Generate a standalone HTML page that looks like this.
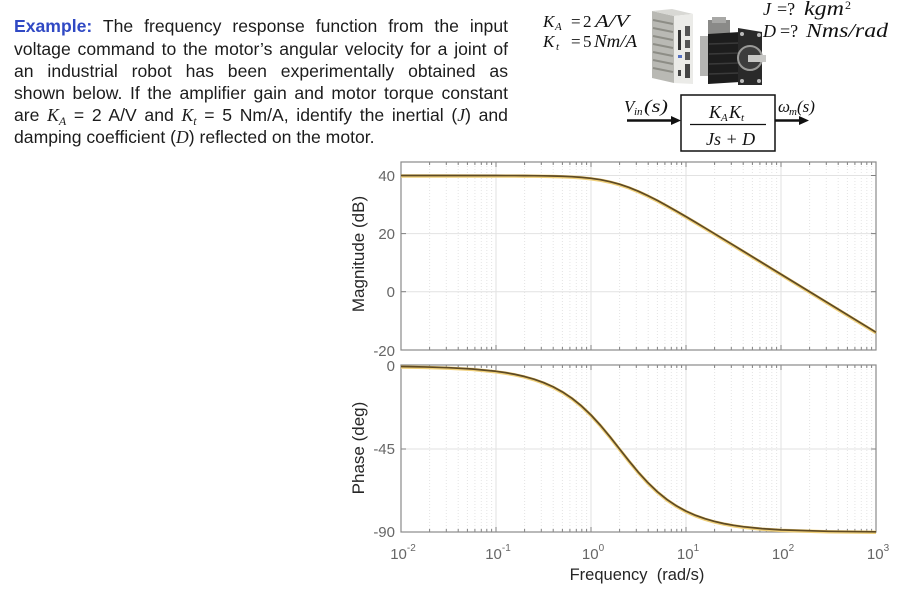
<!DOCTYPE html>
<html>
<head>
<meta charset="utf-8">
<style>
html,body{margin:0;padding:0;background:#fff;}
body{width:897px;height:602px;position:relative;overflow:hidden;font-family:"Liberation Sans",Arial,sans-serif;color:#1c1c1c;}
.ln{position:absolute;left:14px;width:494px;font-size:17.6px;line-height:22px;height:22px;text-align:justify;text-align-last:justify;white-space:normal;}
.last{text-align-last:left;}
.m{font-family:"Liberation Serif",serif;font-style:italic;}
.sb{font-family:"Liberation Serif",serif;font-style:italic;font-size:12px;vertical-align:-4px;}
svg{position:absolute;left:0;top:0;}
</style>
</head>
<body>
<div class="ln" style="top:15px"><b style="color:#3049c4">Example:</b> The frequency response function from the input</div>
<div class="ln" style="top:38px">voltage command to the motor’s angular velocity for a joint of</div>
<div class="ln" style="top:60px">an industrial robot has been experimentally obtained as</div>
<div class="ln" style="top:82px">shown below. If the amplifier gain and motor torque constant</div>
<div class="ln" style="top:104px">are <span class="m">K</span><span class="sb">A</span> = 2 A/V and <span class="m">K</span><span class="sb">t</span> = 5 Nm/A, identify the inertial (<span class="m">J</span>) and</div>
<div class="ln last" style="top:126px">damping coefficient (<span class="m">D</span>) reflected on the motor.</div>

<svg width="897" height="602" viewBox="0 0 897 602" xmlns="http://www.w3.org/2000/svg">
<defs>
  <g id="mgm" stroke="#e4e4e4" stroke-width="1" stroke-dasharray="1,2">
    <line x1="28.6" y1="163" x2="28.6" y2="349"/><line x1="45.3" y1="163" x2="45.3" y2="349"/>
    <line x1="57.2" y1="163" x2="57.2" y2="349"/><line x1="66.4" y1="163" x2="66.4" y2="349"/>
    <line x1="73.9" y1="163" x2="73.9" y2="349"/><line x1="80.3" y1="163" x2="80.3" y2="349"/>
    <line x1="85.8" y1="163" x2="85.8" y2="349"/><line x1="90.6" y1="163" x2="90.6" y2="349"/>
  </g>
  <g id="mgp" stroke="#e4e4e4" stroke-width="1" stroke-dasharray="1,2">
    <line x1="28.6" y1="366" x2="28.6" y2="531"/><line x1="45.3" y1="366" x2="45.3" y2="531"/>
    <line x1="57.2" y1="366" x2="57.2" y2="531"/><line x1="66.4" y1="366" x2="66.4" y2="531"/>
    <line x1="73.9" y1="366" x2="73.9" y2="531"/><line x1="80.3" y1="366" x2="80.3" y2="531"/>
    <line x1="85.8" y1="366" x2="85.8" y2="531"/><line x1="90.6" y1="366" x2="90.6" y2="531"/>
  </g>
  <g id="mtk" stroke="#808080" stroke-width="1">
    <line x1="28.6" y1="0" x2="28.6" y2="3"/><line x1="45.3" y1="0" x2="45.3" y2="3"/>
    <line x1="57.2" y1="0" x2="57.2" y2="3"/><line x1="66.4" y1="0" x2="66.4" y2="3"/>
    <line x1="73.9" y1="0" x2="73.9" y2="3"/><line x1="80.3" y1="0" x2="80.3" y2="3"/>
    <line x1="85.8" y1="0" x2="85.8" y2="3"/><line x1="90.6" y1="0" x2="90.6" y2="3"/>
  </g>
</defs>

<!-- Equations top right -->
<g font-family="Liberation Serif, serif" font-style="italic" fill="#111">
  <text x="543" y="27" font-size="17">K</text>
  <text x="555" y="30" font-size="11">A</text>
  <text x="571" y="27" font-size="17" font-style="normal">=</text>
  <text x="583" y="27" font-size="17" font-style="normal">2</text>
  <text x="595" y="27" font-size="18" textLength="34" lengthAdjust="spacingAndGlyphs">A/V</text>
  <text x="543" y="47" font-size="17">K</text>
  <text x="556" y="50" font-size="11">t</text>
  <text x="571" y="47" font-size="17" font-style="normal">=</text>
  <text x="583" y="47" font-size="17" font-style="normal">5</text>
  <text x="594" y="47" font-size="18" textLength="43" lengthAdjust="spacingAndGlyphs">Nm/A</text>

  <text x="763" y="15" font-size="18">J</text>
  <text x="777" y="15" font-size="18" font-style="normal">=?</text>
  <text x="804" y="15" font-size="20" textLength="40" lengthAdjust="spacingAndGlyphs">kgm</text>
  <text x="845" y="9" font-size="12" font-style="normal">2</text>
  <text x="763" y="37" font-size="18">D</text>
  <text x="780" y="37" font-size="18" font-style="normal">=?</text>
  <text x="806" y="37" font-size="20" textLength="82" lengthAdjust="spacingAndGlyphs">Nms/rad</text>
</g>

<!-- device pictures -->
<g>
  <polygon points="652,11 674,16 674,83 652,78" fill="#b9b9b4"/>
  <g stroke="#8d8d86" stroke-width="2">
    <line x1="653" y1="20" x2="673" y2="24"/><line x1="653" y1="28" x2="673" y2="32"/>
    <line x1="653" y1="36" x2="673" y2="40"/><line x1="653" y1="44" x2="673" y2="48"/>
    <line x1="653" y1="52" x2="673" y2="56"/><line x1="653" y1="60" x2="673" y2="64"/>
    <line x1="653" y1="68" x2="673" y2="72"/>
  </g>
  <polygon points="652,11 674,16 693,14 672,9" fill="#d8d8d4"/>
  <polygon points="674,16 693,14 693,84 674,83" fill="#ebebe8"/>
  <rect x="678" y="30" width="3" height="20" fill="#333"/>
  <rect x="685" y="26" width="5" height="10" fill="#555"/>
  <rect x="685" y="40" width="5" height="8" fill="#555"/>
  <rect x="685" y="52" width="5" height="8" fill="#555"/>
  <rect x="685" y="64" width="5" height="14" fill="#444"/>
  <rect x="678" y="70" width="3" height="6" fill="#444"/>
  <rect x="678" y="55" width="4" height="3" fill="#5570c0"/>
  <!-- motor -->
  <rect x="708" y="20" width="22" height="14" fill="#8a8a88"/>
  <rect x="712" y="17" width="14" height="6" fill="#a8a8a6"/>
  <rect x="700" y="36" width="10" height="40" fill="#b5b5b3"/>
  <polygon points="708,34 740,32 740,82 708,84" fill="#1d1d1d"/>
  <g stroke="#3a3a3a" stroke-width="1.5">
    <line x1="709" y1="44" x2="739" y2="43"/><line x1="709" y1="54" x2="739" y2="53"/>
    <line x1="709" y1="64" x2="739" y2="63"/><line x1="709" y1="74" x2="739" y2="73"/>
  </g>
  <polygon points="738,28 762,32 762,85 738,85" fill="#2a2a2a"/>
  <circle cx="750" cy="58" r="12" fill="#3d3d3d" stroke="#9a9a98" stroke-width="2"/>
  <rect x="748" y="55" width="18" height="7" fill="#c8c8c6"/>
  <circle cx="742" cy="34" r="2" fill="#bbb"/><circle cx="759" cy="35" r="2" fill="#bbb"/>
  <circle cx="742" cy="81" r="2" fill="#bbb"/><circle cx="759" cy="81" r="2" fill="#bbb"/>
</g>

<!-- block diagram -->
<g fill="#111">
  <line x1="627" y1="120.5" x2="673" y2="120.5" stroke="#111" stroke-width="2.5"/>
  <polygon points="671,116 681,120.5 671,125"/>
  <rect x="681" y="95" width="94" height="56" fill="none" stroke="#111" stroke-width="1.5"/>
  <line x1="775" y1="120.5" x2="800" y2="120.5" stroke="#111" stroke-width="2.5"/>
  <polygon points="799,116 809,120.5 799,125"/>
  <line x1="690" y1="124.5" x2="766" y2="124.5" stroke="#111" stroke-width="1.2"/>
  <g font-family="Liberation Serif, serif" font-style="italic">
    <text x="624" y="112" font-size="17">V</text>
    <text x="634" y="115" font-size="11">in</text>
    <text x="644" y="112" font-size="18" textLength="24" lengthAdjust="spacingAndGlyphs">(s)</text>
    <text x="778" y="112" font-size="17">ω</text>
    <text x="789" y="115" font-size="11">m</text>
    <text x="797" y="112" font-size="17">(s)</text>
    <text x="709" y="118" font-size="18">K</text>
    <text x="721" y="121" font-size="11">A</text>
    <text x="729" y="118" font-size="18">K</text>
    <text x="741" y="121" font-size="11">t</text>
    <text x="706" y="145" font-size="18">Js + D</text>
  </g>
</g>

<!-- ===== Magnitude axes ===== -->
<g>
  <use href="#mgm" x="401"/><use href="#mgm" x="496"/><use href="#mgm" x="591"/><use href="#mgm" x="686"/><use href="#mgm" x="781"/>
  <g stroke="#e2e2e2" stroke-width="1">
    <line x1="496" y1="162" x2="496" y2="350"/><line x1="591" y1="162" x2="591" y2="350"/>
    <line x1="686" y1="162" x2="686" y2="350"/><line x1="781" y1="162" x2="781" y2="350"/>
    <line x1="401" y1="175.5" x2="876" y2="175.5"/><line x1="401" y1="233.6" x2="876" y2="233.6"/>
    <line x1="401" y1="291.7" x2="876" y2="291.7"/>
  </g>
  <use href="#mtk" transform="translate(401,347)"/><use href="#mtk" transform="translate(496,347)"/><use href="#mtk" transform="translate(591,347)"/><use href="#mtk" transform="translate(686,347)"/><use href="#mtk" transform="translate(781,347)"/>
  <use href="#mtk" transform="translate(401,162)"/><use href="#mtk" transform="translate(496,162)"/><use href="#mtk" transform="translate(591,162)"/><use href="#mtk" transform="translate(686,162)"/><use href="#mtk" transform="translate(781,162)"/>
  <g stroke="#808080" stroke-width="1">
    <line x1="496" y1="350" x2="496" y2="345"/><line x1="591" y1="350" x2="591" y2="345"/><line x1="686" y1="350" x2="686" y2="345"/><line x1="781" y1="350" x2="781" y2="345"/>
    <line x1="496" y1="162" x2="496" y2="167"/><line x1="591" y1="162" x2="591" y2="167"/><line x1="686" y1="162" x2="686" y2="167"/><line x1="781" y1="162" x2="781" y2="167"/>
    <line x1="401" y1="175.5" x2="406" y2="175.5"/><line x1="401" y1="233.6" x2="406" y2="233.6"/><line x1="401" y1="291.7" x2="406" y2="291.7"/>
    <line x1="876" y1="175.5" x2="871" y2="175.5"/><line x1="876" y1="233.6" x2="871" y2="233.6"/><line x1="876" y1="291.7" x2="871" y2="291.7"/>
  </g>
  <rect x="401" y="162" width="475" height="188" fill="none" stroke="#8a8a8a" stroke-width="1.2"/>
  <polyline fill="none" stroke="#f0d07a" stroke-width="3.4" stroke-linejoin="round" points="401,176 448.5,176 496,176.03 505.5,176.05 515,176.08 524.5,176.12 534,176.2 543.5,176.31 553,176.49 562.5,176.77 572,177.2 581.5,177.85 591,178.82 600.5,180.21 610,182.15 619.5,184.71 629,187.94 638.5,191.81 648,196.21 657.5,201.04 667,206.2 676.5,211.58 686,217.11 695.5,222.73 705,228.43 714.5,234.17 724,239.93 733.5,245.71 743,251.5 762,263.1 781,274.72 828.5,303.77 876,332.81"/>
  <polyline fill="none" stroke="#5e4a24" stroke-width="1.7" stroke-linejoin="round" points="401,175.5 448.5,175.5 496,175.53 505.5,175.55 515,175.58 524.5,175.62 534,175.7 543.5,175.81 553,175.99 562.5,176.27 572,176.7 581.5,177.35 591,178.32 600.5,179.71 610,181.65 619.5,184.21 629,187.44 638.5,191.31 648,195.71 657.5,200.54 667,205.7 676.5,211.08 686,216.61 695.5,222.23 705,227.93 714.5,233.67 724,239.43 733.5,245.21 743,251 762,262.6 781,274.22 828.5,303.27 876,332.31"/>
</g>

<!-- ===== Phase axes ===== -->
<g>
  <use href="#mgp" x="401"/><use href="#mgp" x="496"/><use href="#mgp" x="591"/><use href="#mgp" x="686"/><use href="#mgp" x="781"/>
  <g stroke="#e2e2e2" stroke-width="1">
    <line x1="496" y1="365" x2="496" y2="532"/><line x1="591" y1="365" x2="591" y2="532"/>
    <line x1="686" y1="365" x2="686" y2="532"/><line x1="781" y1="365" x2="781" y2="532"/>
    <line x1="401" y1="449" x2="876" y2="449"/>
  </g>
  <use href="#mtk" transform="translate(401,529)"/><use href="#mtk" transform="translate(496,529)"/><use href="#mtk" transform="translate(591,529)"/><use href="#mtk" transform="translate(686,529)"/><use href="#mtk" transform="translate(781,529)"/>
  <use href="#mtk" transform="translate(401,365)"/><use href="#mtk" transform="translate(496,365)"/><use href="#mtk" transform="translate(591,365)"/><use href="#mtk" transform="translate(686,365)"/><use href="#mtk" transform="translate(781,365)"/>
  <g stroke="#808080" stroke-width="1">
    <line x1="496" y1="532" x2="496" y2="527"/><line x1="591" y1="532" x2="591" y2="527"/><line x1="686" y1="532" x2="686" y2="527"/><line x1="781" y1="532" x2="781" y2="527"/>
    <line x1="496" y1="365" x2="496" y2="370"/><line x1="591" y1="365" x2="591" y2="370"/><line x1="686" y1="365" x2="686" y2="370"/><line x1="781" y1="365" x2="781" y2="370"/>
    <line x1="401" y1="449" x2="406" y2="449"/><line x1="876" y1="449" x2="871" y2="449"/>
  </g>
  <rect x="401" y="365" width="475" height="167" fill="none" stroke="#8a8a8a" stroke-width="1.2"/>
  <polyline fill="none" stroke="#f0d07a" stroke-width="3.4" stroke-linejoin="round" points="401,367.03 424.75,367.44 448.5,368.17 472.25,369.47 496,371.78 505.5,373.14 515,374.86 524.5,377.01 534,379.7 543.5,383.07 553,387.26 562.5,392.45 572,398.8 581.5,406.45 591,415.5 600.5,425.87 610,437.33 619.5,449.37 629,461.43 638.5,472.9 648,483.3 657.5,492.36 667,500.05 676.5,506.43 686,511.64 695.5,515.84 705,519.23 714.5,521.95 724,524.11 733.5,525.82 743,527.19 762,529.14 781,530.38 828.5,531.83 876,532.29"/>
  <polyline fill="none" stroke="#5e4a24" stroke-width="1.7" stroke-linejoin="round" points="401,366.53 424.75,366.94 448.5,367.67 472.25,368.97 496,371.28 505.5,372.64 515,374.36 524.5,376.51 534,379.2 543.5,382.57 553,386.76 562.5,391.95 572,398.3 581.5,405.95 591,415 600.5,425.37 610,436.83 619.5,448.87 629,460.93 638.5,472.4 648,482.8 657.5,491.86 667,499.55 676.5,505.93 686,511.14 695.5,515.34 705,518.73 714.5,521.45 724,523.61 733.5,525.32 743,526.69 762,528.64 781,529.88 828.5,531.33 876,531.79"/>
</g>

<!-- tick labels -->
<g font-family="Liberation Sans, Arial, sans-serif" font-size="15" fill="#666" text-anchor="end">
  <text x="395" y="181">40</text>
  <text x="395" y="239">20</text>
  <text x="395" y="297">0</text>
  <text x="395" y="356">-20</text>
  <text x="395" y="371">0</text>
  <text x="395" y="454">-45</text>
  <text x="395" y="537">-90</text>
</g>
<g font-family="Liberation Sans, Arial, sans-serif" font-size="15" fill="#666" text-anchor="middle">
  <text x="403" y="559">10<tspan font-size="10" dy="-8">-2</tspan></text>
  <text x="498" y="559">10<tspan font-size="10" dy="-8">-1</tspan></text>
  <text x="593" y="559">10<tspan font-size="10" dy="-8">0</tspan></text>
  <text x="688" y="559">10<tspan font-size="10" dy="-8">1</tspan></text>
  <text x="783" y="559">10<tspan font-size="10" dy="-8">2</tspan></text>
  <text x="878" y="559">10<tspan font-size="10" dy="-8">3</tspan></text>
</g>
<g font-family="Liberation Sans, Arial, sans-serif" font-size="17" fill="#262626" text-anchor="middle">
  <text x="364" y="254" transform="rotate(-90 364 254)">Magnitude (dB)</text>
  <text x="364" y="448" transform="rotate(-90 364 448)">Phase (deg)</text>
  <text x="637" y="580" font-size="16.5">Frequency&#160; (rad/s)</text>
</g>
</svg>
</body>
</html>
